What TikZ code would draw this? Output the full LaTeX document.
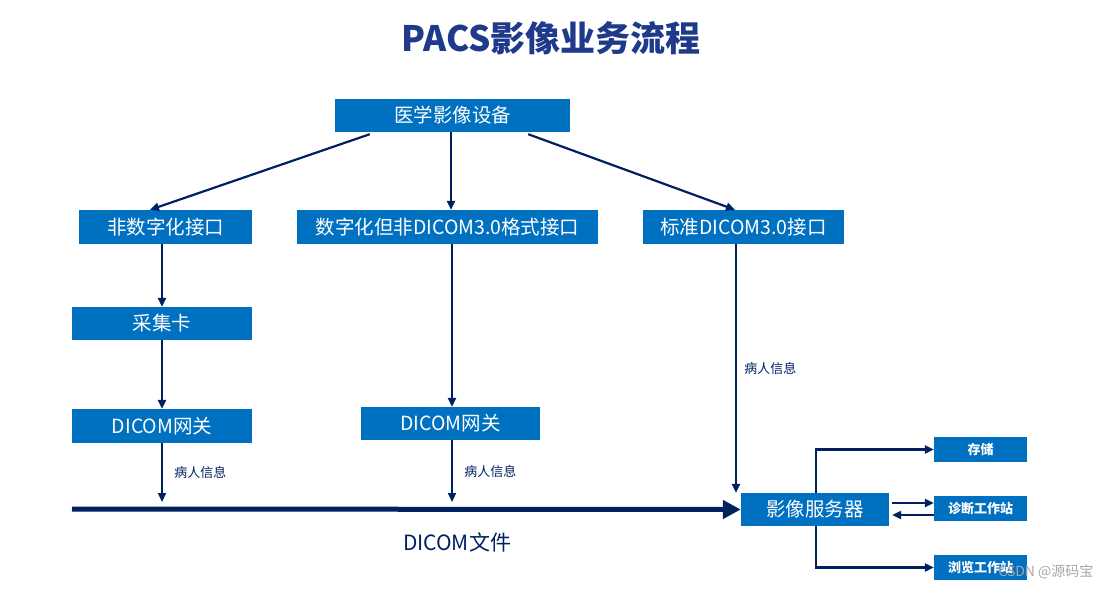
\documentclass[tikz,border=0pt]{standalone}
\usepackage{fontspec}
\setmainfont{Noto Sans CJK SC}
\usetikzlibrary{arrows.meta}
\definecolor{boxc}{HTML}{0070C0}
\definecolor{arr}{HTML}{002060}
\definecolor{ttl}{HTML}{1F3A8A}
\begin{document}
\begin{tikzpicture}[x=1pt,y=-1pt,
 bx/.style={fill=boxc,text=white,inner sep=0,font=\fontsize{19.5}{21}\selectfont},
 sb/.style={fill=boxc,text=white,inner sep=0,font=\fontsize{13}{15}\selectfont\bfseries},
 ar/.style={draw=arr,line width=2.2pt,-{Triangle[length=9pt,width=8pt]}},
 lb/.style={font=\fontsize{13}{15}\selectfont,text=arr}]
\useasboundingbox (0,0) rectangle (1111,589);
\node[font=\fontsize{35}{38}\selectfont\bfseries,text=ttl] (title) at (551,38) {PACS影像业务流程};
\node[bx,minimum width=235,minimum height=33] (dev) at (452.5,115.5) {医学影像设备};
\node[bx,minimum width=173,minimum height=34] (n1) at (165.5,227) {非数字化接口};
\node[bx,minimum width=301,minimum height=34] (n2) at (447.5,227) {数字化但非DICOM3.0格式接口};
\node[bx,minimum width=201,minimum height=34] (n3) at (743.5,227) {标准DICOM3.0接口};
\node[bx,minimum width=180,minimum height=33] (cap) at (162,323.5) {采集卡};
\node[bx,minimum width=180,minimum height=34] (g1) at (162,426) {DICOM网关};
\node[bx,minimum width=179,minimum height=33] (g2) at (450.5,423.5) {DICOM网关};
\node[bx,minimum width=148,minimum height=33] (srv) at (815,509.5) {影像服务器};
\node[sb,minimum width=93,minimum height=25] (st) at (980.5,449.5) {存储};
\node[sb,minimum width=93,minimum height=25] (dw) at (980.5,508.5) {诊断工作站};
\node[sb,minimum width=93,minimum height=25] (bw) at (980.5,567.5) {浏览工作站};
\coordinate (a0) at (72,509);
\coordinate (e1) at (162,502);
\coordinate (e2) at (452,502);
\draw[ar] (dev.south west) ++(35,2) -- (n1.north -| 150,0);
\draw[ar] (dev.south -| 451,0) -- (n2.north -| 451,0);
\draw[ar] (dev.south east) ++(-42,2) -- (n3.north -| 735,0);
\draw[ar] (n1.south -| cap.north) -- (cap.north);
\draw[ar] (cap.south) -- (g1.north);
\draw[ar] (g1.south) -- (e1) node[lb,midway,right=8pt] {病人信息};
\draw[ar] (n2.south -| 452,0) -- (g2.north -| 452,0);
\draw[ar] (g2.south -| 452,0) -- (e2) node[lb,midway,right=8pt] {病人信息};
\draw[ar] (n3.south -| 736,0) -- (srv.north -| 736,0) node[lb,pos=0.5,right=4pt] {病人信息};
\draw[draw=arr,line width=5pt,-{Triangle[length=18pt,width=18pt]}] (a0) -- (srv.west);
\node[font=\fontsize{21}{23}\selectfont,text=arr] (df) at (457,542) {DICOM文件};
\draw[ar] (srv.north -| 816,0) |- (st.west);
\draw[ar] (srv.south -| 816,0) |- (bw.west);
\draw[ar] (srv.east |- 0,503) ++(3,0) -- (dw.west |- 0,503);
\draw[ar] (dw.west |- 0,515) -- ([xshift=3pt]srv.east |- 0,515);
\node[font=\fontsize{14}{16}\selectfont,text=gray!70,anchor=east] (wm) at (1097,572) {CSDN @源码宝};
\end{tikzpicture}
\end{document}
